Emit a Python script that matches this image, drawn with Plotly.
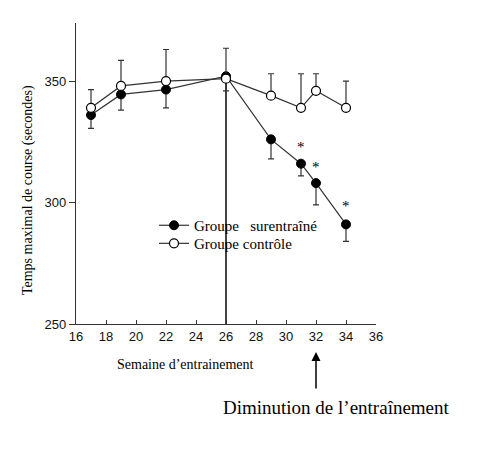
import plotly.graph_objects as go

# semaines de mesure
weeks = [17, 19, 22, 26, 29, 31, 32, 34]

# groupe surentraîné (points pleins), erreur vers le bas
over_y = [336, 344.5, 346.5, 352, 326, 316, 308, 291]
over_err_low = [5.5, 6.5, 7.5, 6, 8, 5, 9, 7]

# groupe contrôle (points vides), erreur vers le haut
ctrl_y = [339, 348, 350, 351, 344, 339, 346, 339]
ctrl_err_up = [7.5, 10.5, 13, 12.5, 9, 14, 7, 11]

# astérisques de significativité
star_weeks = [31, 32, 34]
star_y = [323, 314.5, 298.5]

x_ticks = list(range(16, 37, 2))
y_ticks = [250, 300, 350]

serif = "Liberation Serif, Times New Roman, serif"
sans = "Liberation Sans, Arial, sans-serif"
ink = "#333333"

fig = go.Figure()

fig.add_trace(go.Scatter(
    x=weeks, y=over_y, mode="lines+markers",
    name="Groupe\u00a0\u00a0\u00a0surentraîné", legend="legend",
    line=dict(color=ink, width=1.2),
    marker=dict(symbol="circle", size=9, color="black", line=dict(color="black", width=1)),
    error_y=dict(type="data", symmetric=False, array=[0] * len(weeks), arrayminus=over_err_low,
                 color=ink, thickness=1.2, width=3),
))

fig.add_trace(go.Scatter(
    x=weeks, y=ctrl_y, mode="lines+markers",
    name="Groupe contrôle", legend="legend2",
    line=dict(color=ink, width=1.2),
    marker=dict(symbol="circle", size=9, color="white", line=dict(color="black", width=1.2)),
    error_y=dict(type="data", symmetric=False, array=ctrl_err_up, arrayminus=[0] * len(weeks),
                 color=ink, thickness=1.2, width=3),
))

# ligne verticale à la semaine 26
fig.add_shape(type="line", xref="x", yref="y", x0=26, x1=26, y0=250, y1=over_y[3],
              line=dict(color="#444444", width=2), layer="below")

for sx, sy in zip(star_weeks, star_y):
    fig.add_annotation(x=sx, y=sy, text="*", showarrow=False,
                       font=dict(family=serif, size=15, color="black"))

# titre de l'axe y (annotation pour placer librement)
fig.add_annotation(xref="paper", yref="paper", x=-0.16, y=0.445, textangle=-90,
                   xanchor="center", yanchor="middle",
                   text="Temps maximal de course (secondes)", showarrow=False,
                   font=dict(family=serif, size=14, color="black"))

fig.add_annotation(xref="x", yref="paper", x=23.33, y=-0.136,
                   xanchor="center", yanchor="middle",
                   text="Semaine d’entrainement", showarrow=False,
                   font=dict(family=serif, size=14, color="black"))

# flèche sous la semaine 32
fig.add_annotation(xref="x", yref="paper", x=32, y=-0.093, ax=0, ay=38,
                   text="", showarrow=True, arrowhead=2, arrowsize=1.2,
                   arrowwidth=1.5, arrowcolor="black")

fig.add_annotation(xref="x", yref="paper", x=33.37, y=-0.279,
                   xanchor="center", yanchor="middle",
                   text="Diminution de l’entraînement", showarrow=False,
                   font=dict(family=serif, size=19, color="black"))

legend_style = dict(xanchor="left", yanchor="top", bgcolor="rgba(0,0,0,0)",
                    borderwidth=0, itemwidth=30,
                    font=dict(family=serif, size=15, color="black"))

# la page ajoute ~8 px de marge : figure un peu plus petite
fig.update_layout(
    width=472, height=441,
    margin=dict(l=68, r=104, t=15, b=125, autoexpand=False),
    paper_bgcolor="white", plot_bgcolor="white",
    showlegend=True,
    legend=dict(x=0.26, y=0.382, **legend_style),
    legend2=dict(x=0.26, y=0.322, **legend_style),
)

fig.update_xaxes(range=[16, 36], tickvals=x_ticks, ticks="inside", ticklen=4,
                 tickcolor=ink, showline=True, linecolor=ink, linewidth=1.2,
                 showgrid=False, zeroline=False,
                 tickfont=dict(family=sans, size=13, color="#111111"))
fig.update_yaxes(range=[250, 373.9], tickvals=y_ticks, ticks="outside", ticklen=6,
                 tickcolor=ink, showline=True, linecolor=ink, linewidth=1.2,
                 showgrid=False, zeroline=False,
                 tickfont=dict(family=sans, size=13, color="#111111"))

fig.write_html("out.html")
